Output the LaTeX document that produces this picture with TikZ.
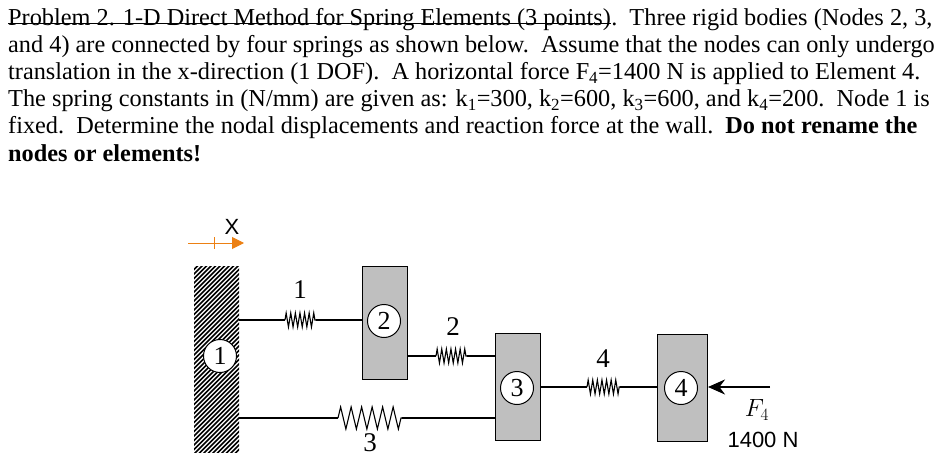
\documentclass[tikz,border=0pt]{standalone}
\usepackage{fontspec}
\setmainfont{Liberation Serif}
\newfontfamily\sansf{Liberation Sans}
\usetikzlibrary{decorations.pathmorphing,arrows.meta}
\begin{document}
\begin{tikzpicture}[x=1pt,y=-1pt,
  txt/.style={anchor=base west,inner sep=0,font=\fontsize{24.3}{25}\selectfont},
  blk/.style={draw,fill=gray!50,line width=0.8pt},
  num/.style={draw,circle,fill=white,inner sep=0,minimum size=33pt,font=\fontsize{26}{26}\selectfont,line width=1pt},
  sprA/.style={decorate,decoration={zigzag,segment length=4.6pt,amplitude=7pt},line width=1.1pt},
  sprB/.style={decorate,decoration={zigzag,segment length=10.5pt,amplitude=11pt},line width=1.1pt},
  wire/.style={line width=1.3pt},
  lbl/.style={font=\fontsize{27}{27}\selectfont,inner sep=0}]
\useasboundingbox (0,0) rectangle (949,457);
\node[txt] (l1a) at (8,26) {Problem 2. 1-D Direct Method for Spring Elements (3 points)};
\draw[line width=0.9pt] ([yshift=3pt]l1a.base west) -- ([yshift=3pt]l1a.base east);
\node[txt] (l1b) at (l1a.base east) {.\ \ Three rigid bodies (Nodes 2, 3,};
\node[txt] (l2) at (8,53) {and 4) are connected by four springs as shown below.\ \ Assume that the nodes can only undergo};
\node[txt] (l3) at (8,80) {translation in the x-direction (1 DOF).\ \ A horizontal force F\textsubscript{4}=1400 N is applied to Element 4.};
\node[txt] (l4) at (8,107) {The spring constants in (N/mm) are given as: k\textsubscript{1}=300, k\textsubscript{2}=600, k\textsubscript{3}=600, and k\textsubscript{4}=200.\ \ Node 1 is};
\node[txt] (l5) at (8,134) {fixed.\ \ Determine the nodal displacements and reaction force at the wall.\ \ \textbf{Do not rename the}};
\node[txt] (l6) at (8,161) {\textbf{nodes or elements!}};
% x axis
\coordinate (xa) at (188,243); \coordinate (xb) at (244,243);
\draw[orange!70!brown,line width=1pt,-{Triangle[length=12pt,width=12pt]}] (xa) -- (xb);
\draw[orange!70!brown,line width=1pt] (214,237) -- (214,249);
\node[font=\sansf\fontsize{22}{22}\selectfont] (X) at (232,227) {X};
% wall
\begin{scope}
\clip (194,266) rectangle (239,452);
\foreach \i in {0,4.5,...,240} \draw[line width=1.6pt] (194-10,266+\i) -- (194+60,266+\i-70);
\end{scope}
\node[num] (n1) at (220,356) {1};
% blocks
\draw[blk] (362,266) rectangle (407,379); \node[num] (n2) at (384,321) {2};
\draw[blk] (495,333) rectangle (540,440); \node[num] (n3) at (517,388) {3};
\draw[blk] (657,334) rectangle (707,441); \node[num] (n4) at (681,388) {4};
% spring 1
\coordinate (s1a) at (239,320); \coordinate (s1b) at (285,320); \coordinate (s1c) at (316,320); \coordinate (s1d) at (362,320);
\draw[wire] (s1a) -- (s1b); \draw[sprA] (s1b) -- (s1c); \draw[wire] (s1c) -- (s1d);
\node[lbl] at (300,290) {1};
% spring 2
\coordinate (s2a) at (407,356); \coordinate (s2b) at (436,356); \coordinate (s2c) at (467,356); \coordinate (s2d) at (495,356);
\draw[wire] (s2a) -- (s2b); \draw[sprA] (s2b) -- (s2c); \draw[wire] (s2c) -- (s2d);
\node[lbl] at (453,327) {2};
% spring 3
\coordinate (s3a) at (239,418); \coordinate (s3b) at (338,418); \coordinate (s3c) at (402,418); \coordinate (s3d) at (495,418);
\draw[wire] (s3a) -- (s3b); \draw[sprB] (s3b) -- (s3c); \draw[wire] (s3c) -- (s3d);
\node[lbl] at (370,443) {3};
% spring 4
\coordinate (s4a) at (540,387); \coordinate (s4b) at (587,387); \coordinate (s4c) at (620,387); \coordinate (s4d) at (657,387);
\draw[wire] (s4a) -- (s4b); \draw[sprA] (s4b) -- (s4c); \draw[wire] (s4c) -- (s4d);
\node[lbl] at (603,359) {4};
% force
\coordinate (fa) at (770,387); \coordinate (fb) at (708,387);
\draw[line width=1.6pt,-{Stealth[length=17pt,width=15pt]}] (fa) -- (fb);
\node[font=\fontsize{27}{27}\selectfont] (F) at (757,410) {$F_4$};
\node[font=\sansf\fontsize{22}{22}\selectfont] (N) at (763,440) {1400 N};
\end{tikzpicture}
\end{document}
